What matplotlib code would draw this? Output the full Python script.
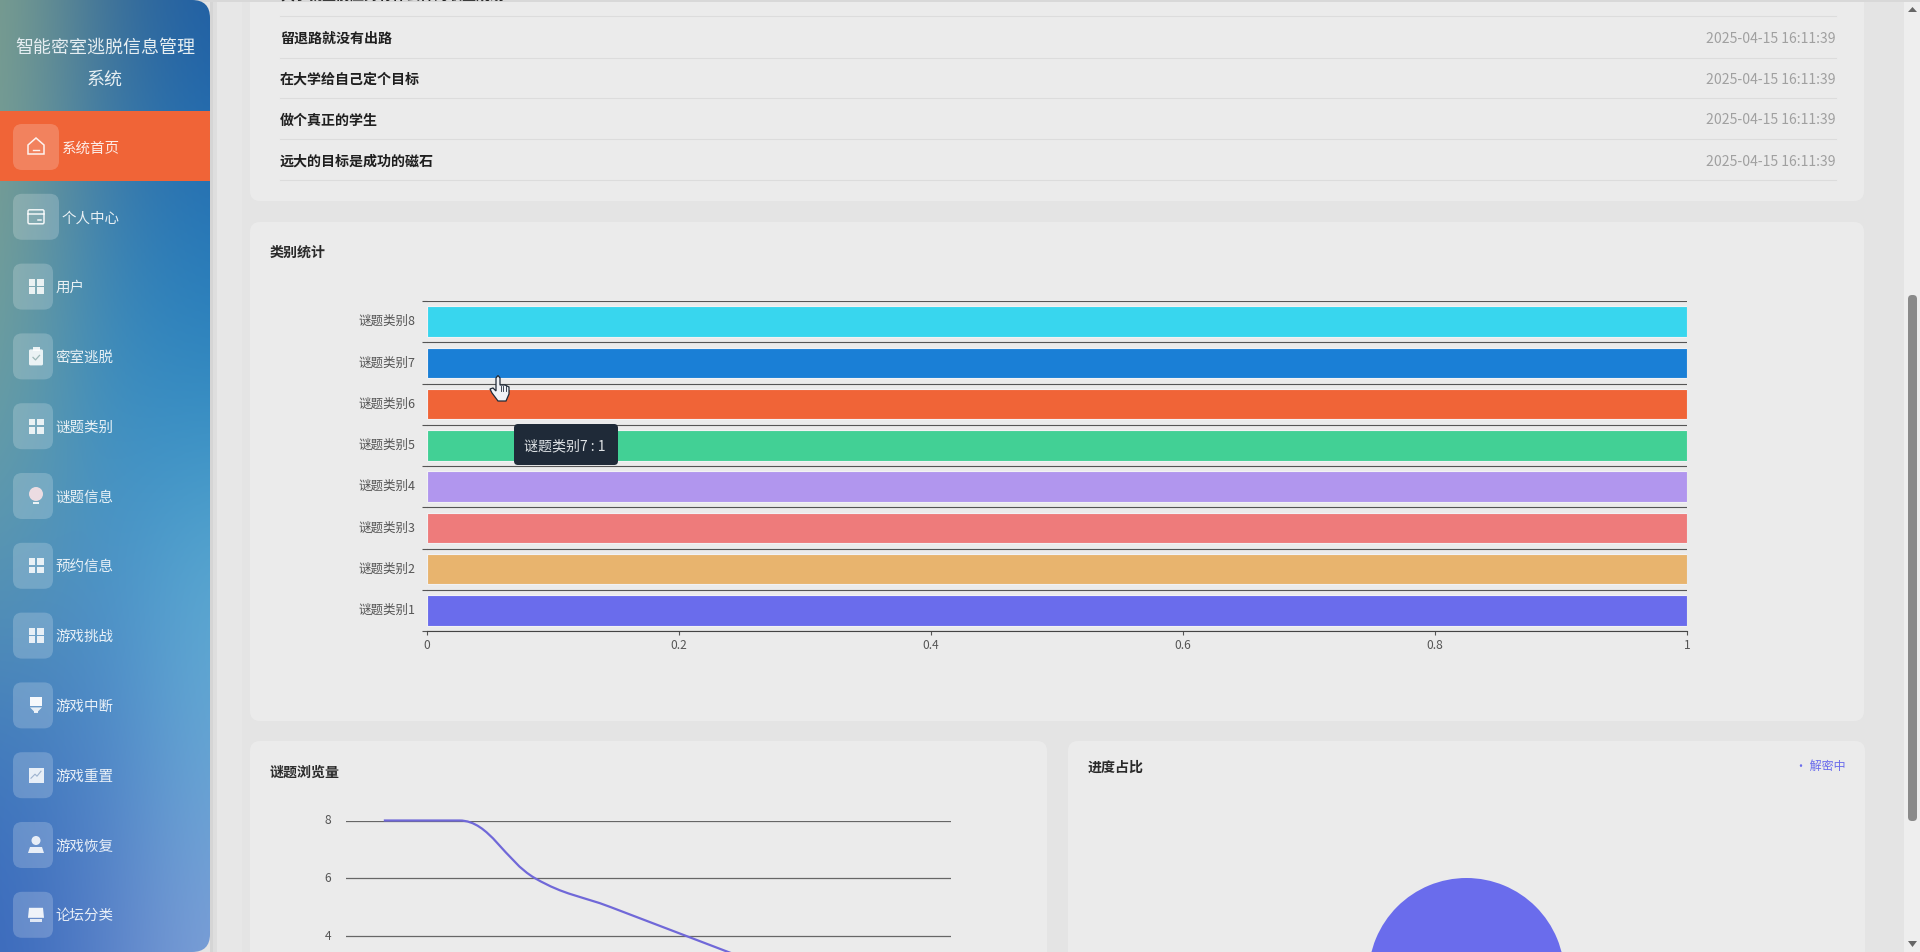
import numpy as np
import matplotlib
matplotlib.use('Agg')
import matplotlib.pyplot as plt
from matplotlib.patches import FancyBboxPatch, Rectangle, Circle, Polygon, PathPatch
from matplotlib.path import Path
from matplotlib.colors import to_rgb

plt.rcParams['font.family'] = ['Noto Sans CJK SC', 'DejaVu Sans']

W, H = 1920, 952
PX = 0.72  # css px to points at dpi 100
DY = 1.5  # text sits a little lower than matplotlib centres it

# sidebar
app_title = ['智能密室逃脱信息管理', '系统']
menu_items = ['系统首页', '个人中心', '用户', '密室逃脱', '谜题类别', '谜题信息',
              '预约信息', '游戏挑战', '游戏中断', '游戏重置', '游戏恢复', '论坛分类']
menu_icons = ['home', 'card', 'grid', 'clip', 'grid', 'bulb',
              'grid', 'grid', 'screen', 'chart', 'person', 'inbox']

# news list
news_titles = ['大学就业前应持有什么样的职业规划', '留退路就没有出路', '在大学给自己定个目标',
               '做个真正的学生', '远大的目标是成功的磁石']
news_time = '2025-04-15 16:11:39'

# bar chart
bar_categories = ['谜题类别1', '谜题类别2', '谜题类别3', '谜题类别4',
                  '谜题类别5', '谜题类别6', '谜题类别7', '谜题类别8']
bar_values = [1, 1, 1, 1, 1, 1, 1, 1]
bar_colors = ['#6a6cec', '#e8b46e', '#ee7b7b', '#b196ee',
              '#42d095', '#f06437', '#1a7fd6', '#38d6ee']
bar_xticks = [0, 0.2, 0.4, 0.6, 0.8, 1]
bar_xlabels = ['0', '0.2', '0.4', '0.6', '0.8', '1']

# line chart, only the part on screen
line_values = [8, 8, 6, 5, 4, 3]
line_yticks = [4, 6, 8]

# pie
pie_labels = ['解密中']
pie_values = [1]
pie_color = '#6a6cec'


def px_axes(x0, y0, x1, y1, **kw):
    return fig.add_axes([x0 / W, 1 - y1 / H, (x1 - x0) / W, (y1 - y0) / H], **kw)


def round_box(ax, x0, y0, x1, y1, r, **kw):
    p = FancyBboxPatch((x0 + r, y0 + r), x1 - x0 - 2 * r, y1 - y0 - 2 * r,
                       boxstyle='round,pad=%s,rounding_size=%s' % (r, r), linewidth=0, **kw)
    ax.add_patch(p)
    return p


def draw_icon(ax, kind, cx, cy):
    c = '#ffffff'
    a = 0.85
    if kind == 'grid':
        for dx, dy in [(-7.5, -7.5), (0.8, -7.5), (-7.5, 0.8), (0.8, 0.8)]:
            ax.add_patch(Rectangle((cx + dx, cy + dy), 6.7, 6.7, color=c, alpha=a, lw=0))
    elif kind == 'home':
        ax.add_patch(Polygon([(cx - 8, cy - 2), (cx, cy - 9), (cx + 8, cy - 2), (cx + 8, cy + 7), (cx - 8, cy + 7)],
                             closed=True, fill=False, ec=c, lw=1.1, alpha=0.9))
        ax.plot([cx - 3, cx + 3], [cy + 3, cy + 3], color=c, lw=1, alpha=0.9)
    elif kind == 'card':
        p = round_box(ax, cx - 8, cy - 7, cx + 8, cy + 7, 1.5, fill=False, ec=c, alpha=0.9)
        p.set_linewidth(1.1)
        ax.plot([cx - 8, cx + 8], [cy - 2.5, cy - 2.5], color=c, lw=1.1, alpha=0.9)
        ax.plot([cx + 2, cx + 5], [cy + 3, cy + 3], color=c, lw=1.1, alpha=0.9)
    elif kind == 'clip':
        round_box(ax, cx - 7, cy - 7, cx + 7, cy + 9, 1.5, color=c, alpha=a)
        ax.add_patch(Rectangle((cx - 3.5, cy - 9), 7, 4, color=c, alpha=a, lw=0))
        ax.plot([cx - 3, cx - 0.5, cx + 3.5], [cy + 1, cy + 3.5, cy - 1], color='#9db8b8', lw=0.9)
    elif kind == 'bulb':
        ax.add_patch(Circle((cx, cy - 2), 7, color='#f3dfe4', alpha=0.95, lw=0))
        ax.add_patch(Rectangle((cx - 3, cy + 6), 6, 2, color=c, alpha=a, lw=0))
    elif kind == 'screen':
        ax.add_patch(Rectangle((cx - 6, cy - 8), 12, 9, color=c, alpha=0.95, lw=0))
        ax.add_patch(Polygon([(cx - 6, cy + 2), (cx + 6, cy + 2), (cx + 2, cy + 6), (cx - 2, cy + 6)], color=c, alpha=a, lw=0))
        ax.add_patch(Rectangle((cx - 2, cy + 6), 4, 2, color=c, alpha=a, lw=0))
    elif kind == 'chart':
        ax.add_patch(Rectangle((cx - 7.5, cy - 7.5), 15, 15, color=c, alpha=0.85, lw=0))
        ax.plot([cx - 5, cx - 1, cx + 1, cx + 5], [cy + 3, cy - 1, cy + 1, cy - 4], color='#9db3cf', lw=0.8)
    elif kind == 'person':
        ax.add_patch(Circle((cx, cy - 4.5), 4.5, color=c, alpha=a, lw=0))
        ax.add_patch(Polygon([(cx - 8, cy + 8), (cx - 6, cy + 2), (cx + 6, cy + 2), (cx + 8, cy + 8)], color=c, alpha=a, lw=0))
    elif kind == 'inbox':
        ax.add_patch(Polygon([(cx - 7, cy - 7), (cx + 7, cy - 7), (cx + 8, cy + 3), (cx - 8, cy + 3)], color=c, alpha=0.9, lw=0))
        ax.add_patch(Rectangle((cx - 6, cy + 4), 12, 3.5, color=c, alpha=0.8, lw=0))


fig = plt.figure(figsize=(W / 100, H / 100), dpi=100, facecolor='#e4e4e4')

# page background and cards, in pixel coordinates
ui = px_axes(0, 0, W, H, zorder=0)
ui.set_xlim(0, W)
ui.set_ylim(H, 0)
ui.axis('off')
ui.add_patch(Rectangle((210, 0), 3, H, color='#d5d5d5', lw=0))
ui.add_patch(Rectangle((213, 0), 4, H, color='#dedede', lw=0))
ui.add_patch(Rectangle((217, 0), 25, H, color='#e7e7e7', lw=0))
ui.add_patch(Rectangle((242, 0), 8, H, color='#e4e4e4', lw=0))
round_box(ui, 250, -20, 1864, 201, 10, color='#ebebeb')
round_box(ui, 250, 222, 1864, 721, 10, color='#ebebeb')
round_box(ui, 250, 741, 1047, 980, 10, color='#ebebeb')
round_box(ui, 1068, 741, 1865, 980, 10, color='#ebebeb')

for y in [16, 58, 98, 139, 180]:
    ui.plot([280, 1836], [y, y], color='#dcdcdc', lw=0.8)
for y, t in zip([-6, 37.5, 78.5, 119, 160], news_titles):
    ui.text(280, y + DY, t, fontsize=14 * PX, color='#1f1f1f', va='center', ha='left', fontweight='bold')
    ui.text(1835, y + DY, news_time, fontsize=14 * PX, color='#a0a0a0', va='center', ha='right')
ui.text(270, 251 + DY, '类别统计', fontsize=14 * PX, color='#2a2a2a', va='center', fontweight='bold')
ui.text(270, 771 + DY, '谜题浏览量', fontsize=14 * PX, color='#2a2a2a', va='center', fontweight='bold')
ui.text(1088, 766 + DY, '进度占比', fontsize=14 * PX, color='#2a2a2a', va='center', fontweight='bold')
ui.text(1846, 765 + DY, '· ' + pie_labels[0], fontsize=12 * PX, color=pie_color, va='center', ha='right')

# scrollbar
ui.add_patch(Rectangle((1904, 0), 16, H, color='#eeeeee', lw=0))
round_box(ui, 1908, 295, 1917, 821, 4, color='#8a8a8a')
ui.add_patch(Polygon([(1908, 12), (1917, 12), (1912.5, 7)], color='#666666', lw=0))
ui.add_patch(Polygon([(1908, 941), (1917, 941), (1912.5, 947)], color='#666666', lw=0))
ui.add_patch(Rectangle((0, 0), W, 2, color='#d8d8d8', lw=0))

# sidebar gradient, clipped to its rounded shape
side = px_axes(0, 0, 210, H, zorder=1)
side.set_xlim(0, 210)
side.set_ylim(H, 0)
side.axis('off')
grad_left = ['#7c9f8f', '#7a9f93', '#6c9ea0', '#5796b4', '#3f78be', '#3a68bc']
grad_mid = ['#3f7094', '#3d7eae', '#3a8dc0', '#4b93c8', '#4f84c6', '#5a80c8']
grad_right = ['#1f5ca2', '#2473b6', '#2f88c0', '#5cabd2', '#66a6d4', '#7f9fd8']
grad = np.array([[to_rgb(a), to_rgb(b), to_rgb(c)] for a, b, c in zip(grad_left, grad_mid, grad_right)])
img = side.imshow(grad, extent=(-35, 245, H + 95, -95), aspect='auto', interpolation='bicubic')
clip = FancyBboxPatch((-12, 18), 204, H - 36, boxstyle='round,pad=18,rounding_size=18', transform=side.transData,
                      fc='none', ec='none')
side.add_patch(clip)
img.set_clip_path(clip)
side.set_xlim(0, 210)
side.set_ylim(H, 0)
side.add_patch(Rectangle((0, 111), 210, 70, color='#f06437', lw=0))

for i, t in enumerate(app_title):
    side.text(105, 46 + i * 32 + DY, t, fontsize=18 * PX, color='#e6eef2', ha='center', va='center')

for i, (name, kind) in enumerate(zip(menu_items, menu_icons)):
    cy = 147 + i * 69.8
    bw = 46 if i < 2 else 40
    round_box(side, 13, cy - 23, 13 + bw, cy + 23, 9, color='#ffffff', alpha=0.2)
    draw_icon(side, kind, 36, cy)
    tx = 62 if i < 2 else 55.5
    side.text(tx, cy + DY, name, fontsize=14.5 * PX, color='#ffffff', alpha=0.88, ha='left', va='center')

# bar chart
ax = px_axes(427, 301, 1687, 631, zorder=2)
ax.patch.set_alpha(0)
ypos = np.arange(len(bar_categories))
ax.barh(ypos, bar_values, height=0.745, color=bar_colors, edgecolor='#f2f2f4', linewidth=0.8, zorder=3)
ax.set_xlim(0, 1)
ax.set_ylim(-0.5, len(bar_categories) - 0.5)
ax.set_yticks(ypos)
ax.set_yticklabels(bar_categories, va='center')
ax.set_yticks(np.arange(-0.5, len(bar_categories)), minor=True)
ax.set_xticks(bar_xticks)
ax.set_xticklabels(bar_xlabels)
ax.grid(which='minor', axis='y', color='#555555', lw=0.8, zorder=1)
ax.tick_params(axis='y', which='major', length=0, pad=12 * PX, labelsize=12.5 * PX, labelcolor='#555555')
ax.tick_params(axis='y', which='minor', length=5 * PX, width=0.8, color='#555555')
ax.tick_params(axis='x', length=4 * PX, width=0.8, color='#555555', pad=4 * PX, labelsize=12 * PX, labelcolor='#555555')
for s in ['top', 'right', 'left']:
    ax.spines[s].set_visible(False)
ax.spines['bottom'].set_color('#444444')
ax.spines['bottom'].set_linewidth(0.8)

# line chart, runs past the bottom of the window
ax2 = px_axes(346, 820.5, 951, 1051.5, zorder=2)
ax2.patch.set_alpha(0)
xs = np.arange(len(line_values))
ys = np.array(line_values, dtype=float)
ax2.set_xlim(-0.5, 7.5)
ax2.set_ylim(0, 8)
ax2.set_yticks(line_yticks)
ax2.set_yticklabels([str(v) for v in line_yticks], va='center')
ax2.set_xticks([])
ax2.grid(axis='y', color='#666666', lw=0.9, zorder=1)
ax2.tick_params(axis='y', length=0, pad=15 * PX, labelsize=12 * PX, labelcolor='#555555')
for s in ax2.spines.values():
    s.set_visible(False)
# smooth the line with bezier segments between the values
slopes = np.gradient(ys, xs)
for i in range(1, len(ys) - 1):
    if ys[i] == ys[i - 1] or ys[i] == ys[i + 1]:
        slopes[i] = 0
slopes[0] = 0
verts = [(xs[0], ys[0])]
codes = [Path.MOVETO]
for i in range(len(ys) - 1):
    verts += [(xs[i] + 0.4, ys[i] + 0.4 * slopes[i]), (xs[i + 1] - 0.4, ys[i + 1] - 0.4 * slopes[i + 1]), (xs[i + 1], ys[i + 1])]
    codes += [Path.CURVE4, Path.CURVE4, Path.CURVE4]
ax2.add_patch(PathPatch(Path(verts, codes), fill=False, ec='#7068d8', lw=1.6, zorder=3, clip_on=False))

# pie, also cut by the window
ax3 = px_axes(1368.5, 878, 1564.5, 1074, zorder=2)
ax3.pie(pie_values, colors=[pie_color], radius=1)
ax3.set_xlim(-1, 1)
ax3.set_ylim(-1, 1)

# tooltip and cursor on top
top = px_axes(0, 0, W, H, zorder=5)
top.patch.set_alpha(0)
top.set_xlim(0, W)
top.set_ylim(H, 0)
top.axis('off')
round_box(top, 514, 424, 618, 465, 4, color='#1f2a38')
top.text(524, 445 + DY, '谜题类别7 : 1', fontsize=14 * PX, color='#dfe3e6', va='center', ha='left')
hand = [(496, 378), (498, 375.5), (500, 378), (500, 385), (505, 385), (509, 387), (509, 394), (506, 401),
        (498, 401), (492, 393), (490, 389), (493, 388), (496, 391)]
top.add_patch(Polygon(hand, closed=True, fc='#f0f2f6', ec='#1f2a38', lw=0.9))
for x in [500.5, 503, 505.5]:
    top.plot([x, x], [386, 391], color='#1f2a38', lw=0.6)

fig.savefig('out.png', dpi=100)
